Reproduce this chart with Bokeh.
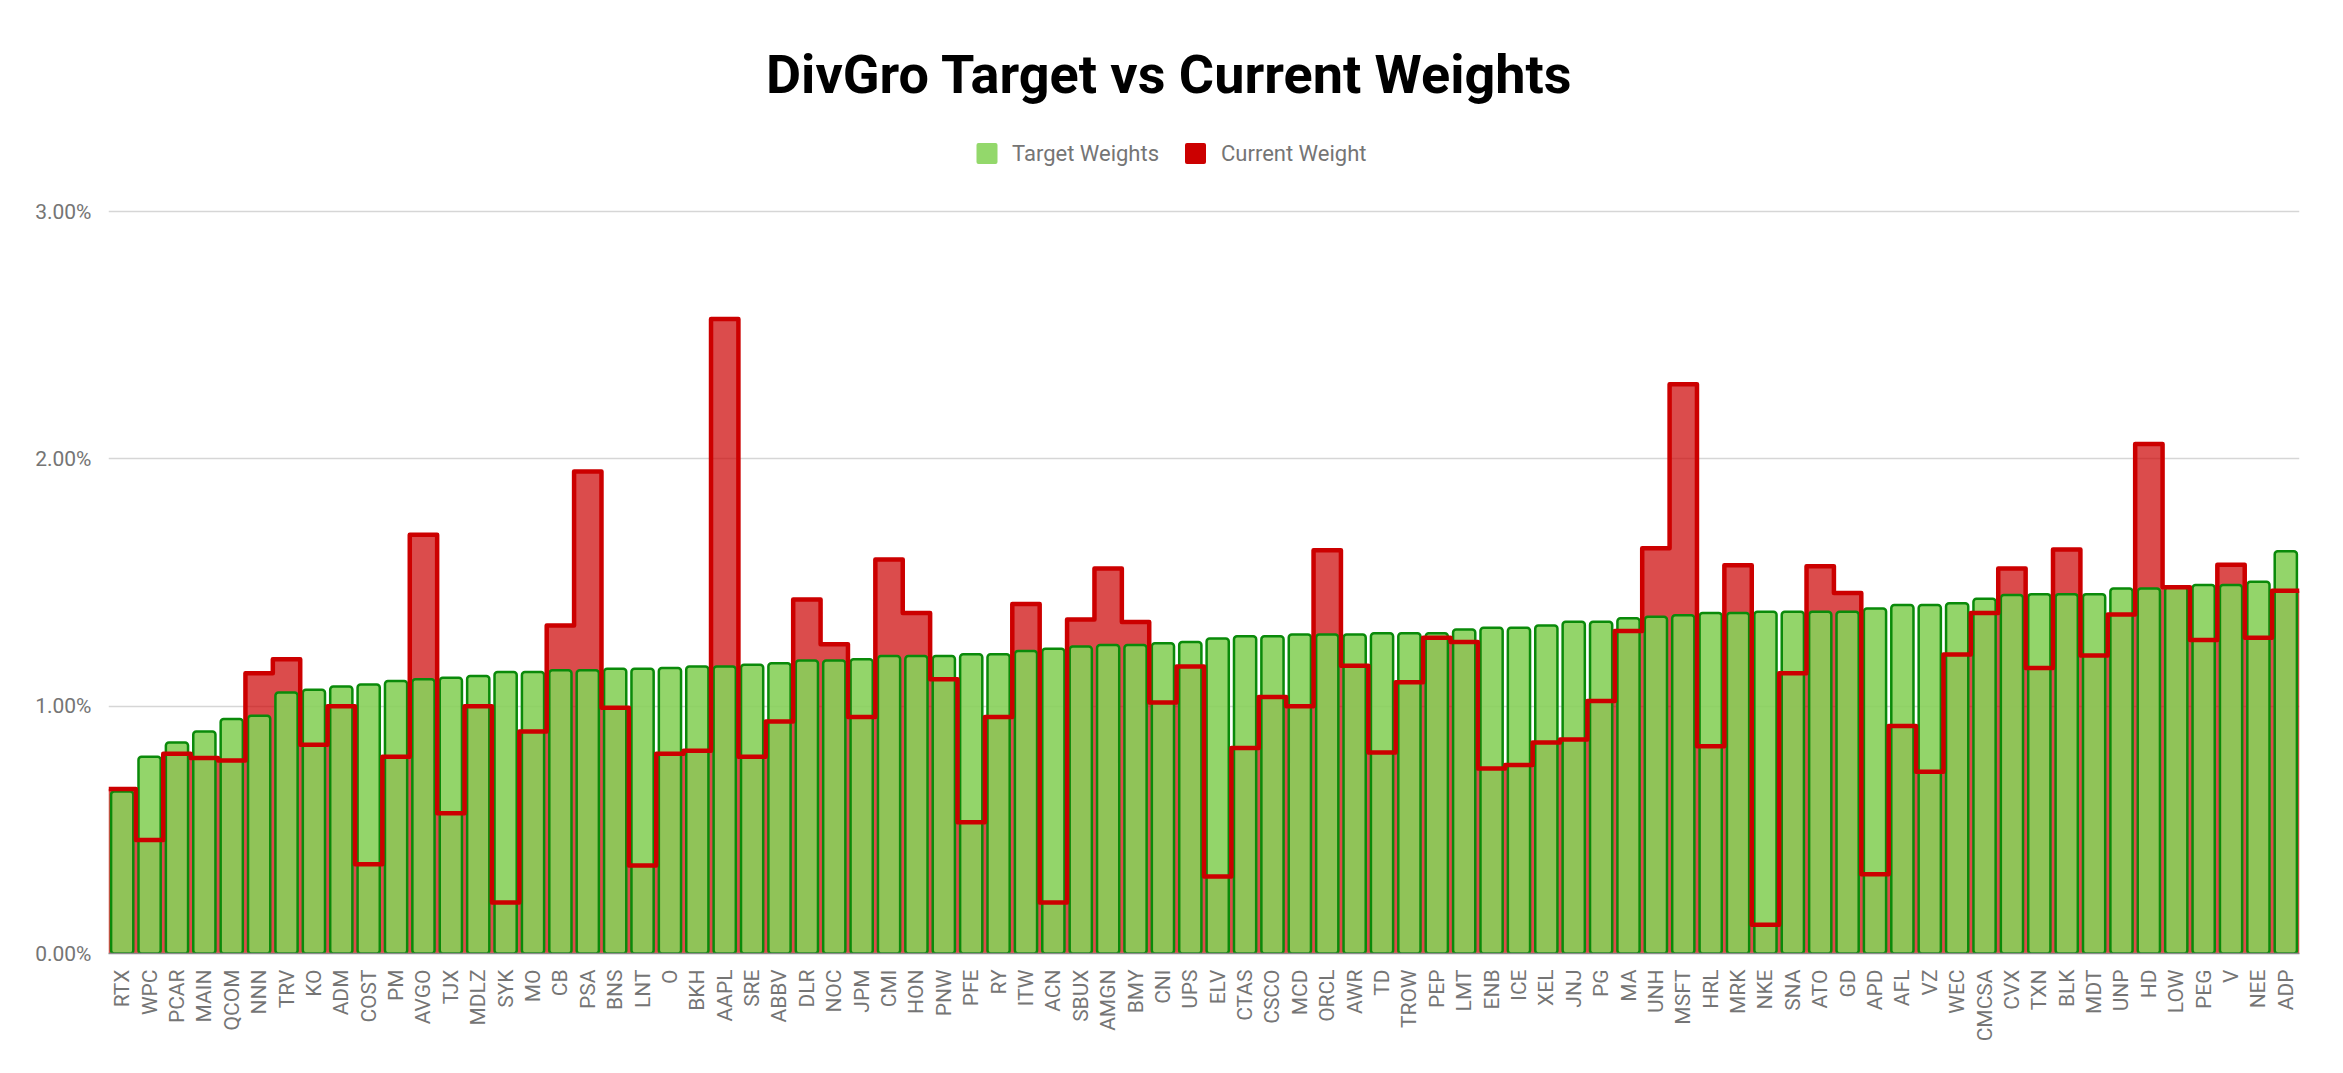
from bokeh.plotting import figure
from bokeh.models import (FactorRange, Range1d, FixedTicker, PrintfTickFormatter, Label)
from bokeh.embed import file_html
from bokeh.resources import INLINE
import math

tickers = ["RTX", "WPC", "PCAR", "MAIN", "QCOM", "NNN", "TRV", "KO", "ADM", "COST",
           "PM", "AVGO", "TJX", "MDLZ", "SYK", "MO", "CB", "PSA", "BNS", "LNT",
           "O", "BKH", "AAPL", "SRE", "ABBV", "DLR", "NOC", "JPM", "CMI", "HON",
           "PNW", "PFE", "RY", "ITW", "ACN", "SBUX", "AMGN", "BMY", "CNI", "UPS",
           "ELV", "CTAS", "CSCO", "MCD", "ORCL", "AWR", "TD", "TROW", "PEP", "LMT",
           "ENB", "ICE", "XEL", "JNJ", "PG", "MA", "UNH", "MSFT", "HRL", "MRK",
           "NKE", "SNA", "ATO", "GD", "APD", "AFL", "VZ", "WEC", "CMCSA", "CVX",
           "TXN", "BLK", "MDT", "UNP", "HD", "LOW", "PEG", "V", "NEE", "ADP"]

target_weights = [0.655, 0.795, 0.853, 0.898, 0.948, 0.961, 1.055, 1.066, 1.080, 1.088,
                  1.102, 1.109, 1.115, 1.122, 1.138, 1.138, 1.145, 1.145, 1.151, 1.151,
                  1.154, 1.160, 1.160, 1.167, 1.174, 1.185, 1.185, 1.190, 1.203, 1.203,
                  1.203, 1.210, 1.210, 1.223, 1.232, 1.241, 1.247, 1.247, 1.254, 1.259,
                  1.274, 1.283, 1.283, 1.290, 1.290, 1.290, 1.295, 1.295, 1.295, 1.310,
                  1.317, 1.317, 1.326, 1.341, 1.341, 1.355, 1.362, 1.368, 1.377, 1.377,
                  1.382, 1.382, 1.382, 1.382, 1.395, 1.409, 1.409, 1.416, 1.434, 1.449,
                  1.453, 1.453, 1.453, 1.476, 1.476, 1.481, 1.490, 1.490, 1.503, 1.626]

current_weight = [0.665, 0.459, 0.808, 0.790, 0.780, 1.133, 1.190, 0.844, 1.000, 0.361,
                  0.795, 1.693, 0.567, 1.000, 0.206, 0.898, 1.326, 1.949, 0.994, 0.356,
                  0.808, 0.820, 2.565, 0.795, 0.938, 1.431, 1.250, 0.956, 1.593, 1.377,
                  1.109, 0.531, 0.956, 1.413, 0.206, 1.350, 1.557, 1.340, 1.015, 1.160,
                  0.311, 0.831, 1.037, 1.000, 1.630, 1.163, 0.813, 1.097, 1.277, 1.259,
                  0.748, 0.762, 0.853, 0.865, 1.021, 1.304, 1.639, 2.302, 0.838, 1.570,
                  0.116, 1.133, 1.566, 1.458, 0.320, 0.920, 0.735, 1.209, 1.377, 1.557,
                  1.154, 1.633, 1.205, 1.371, 2.060, 1.481, 1.268, 1.572, 1.277, 1.467]

y_ticks = [0, 1, 2, 3]
title_text = "DivGro Target vs Current Weights"
series_names = ["Target Weights", "Current Weight"]

# ---- layout geometry (pixels on the canvas) ----
W, H = 2327, 1057
FRAME_L, FRAME_R = 108, 2299
FRAME_B = 953            # y of 0.00%
PX_PER_PCT = 247.33      # vertical pixels per 1 %
y_end = FRAME_B / PX_PER_PCT   # frame reaches the canvas top; gridlines only 0..3 %
band = (FRAME_R - FRAME_L) / len(tickers)


def px_x(px):
    return (px - FRAME_L) / band


def px_y(py):
    return (FRAME_B - py) / PX_PER_PCT


p = figure(x_range=FactorRange(factors=tickers, range_padding=0),
           y_range=Range1d(0, y_end),
           width=W, height=H,
           output_backend="svg", toolbar_location=None,
           min_border_left=FRAME_L, min_border_right=W - FRAME_R,
           min_border_top=0, min_border_bottom=H - FRAME_B,
           outline_line_color=None)

# stepped area for current weight (transitions at band edges)
step_x = []
step_y = []
for t, c in zip(tickers, current_weight):
    step_x += [(t, -0.5), (t, 0.5)]
    step_y += [c, c]
area_x = [(tickers[0], -0.5)] + step_x + [(tickers[-1], 0.5)]
area_y = [0] + step_y + [0]

p.patch(area_x, area_y, fill_color="#cc0000", fill_alpha=0.7, line_color=None)

p.vbar(x=tickers, top=target_weights, width=0.81, bottom=0,
       fill_color="#87d05a", fill_alpha=0.9,
       line_color="#0a8a0a", line_width=2.5, border_radius=3)

p.line(step_x, step_y, line_color="#cc0000", line_width=4.5, line_join="round")

# ---- title ----
p.add_layout(Label(x=px_x(1169), y=px_y(74), x_units="data", y_units="data",
                   text=title_text, text_align="center", text_baseline="alphabetic",
                   text_font="Roboto", text_font_style="bold", text_font_size="54px",
                   text_color="#000000"))

# ---- legend (drawn manually above the plot area) ----
legend_cy = 153
sq = 21
legend_items = [(series_names[0], "#93d86b", 976, 1011.5),
                (series_names[1], "#cc0000", 1184.5, 1220.5)]
for name, col, sq_left, txt_left in legend_items:
    p.quad(left=[px_x(sq_left)], right=[px_x(sq_left + sq)],
           top=[px_y(legend_cy - sq / 2)], bottom=[px_y(legend_cy + sq / 2)],
           fill_color=col, line_color=None, border_radius=2)
    p.add_layout(Label(x=px_x(txt_left), y=px_y(legend_cy), x_units="data", y_units="data",
                       text=name, text_align="left", text_baseline="middle",
                       text_font="Roboto", text_font_size="22px", text_color="#757575"))

# ---- axes ----
p.yaxis.ticker = FixedTicker(ticks=y_ticks)
p.yaxis.formatter = PrintfTickFormatter(format="%.2f%%")
p.yaxis.axis_line_color = None
p.yaxis.major_tick_line_color = None
p.yaxis.minor_tick_line_color = None
p.yaxis.major_label_text_font = "Roboto"
p.yaxis.major_label_text_font_size = "21px"
p.yaxis.major_label_text_color = "#757575"
p.yaxis.major_label_standoff = 11

p.xaxis.major_label_orientation = math.pi / 2
p.xaxis.major_tick_line_color = None
p.xaxis.minor_tick_line_color = None
p.xaxis.axis_line_color = "#8c8c8c"
p.xaxis.axis_line_width = 1.5
p.xaxis.major_label_text_font = "Roboto"
p.xaxis.major_label_text_font_size = "21px"
p.xaxis.major_label_text_color = "#757575"
p.xaxis.major_label_standoff = 10

p.xgrid.grid_line_color = None
p.ygrid.ticker = FixedTicker(ticks=y_ticks)
p.ygrid.grid_line_color = "#d6d6d6"
p.ygrid.grid_line_width = 1.5

open("out.html", "w").write(file_html(p, INLINE))
